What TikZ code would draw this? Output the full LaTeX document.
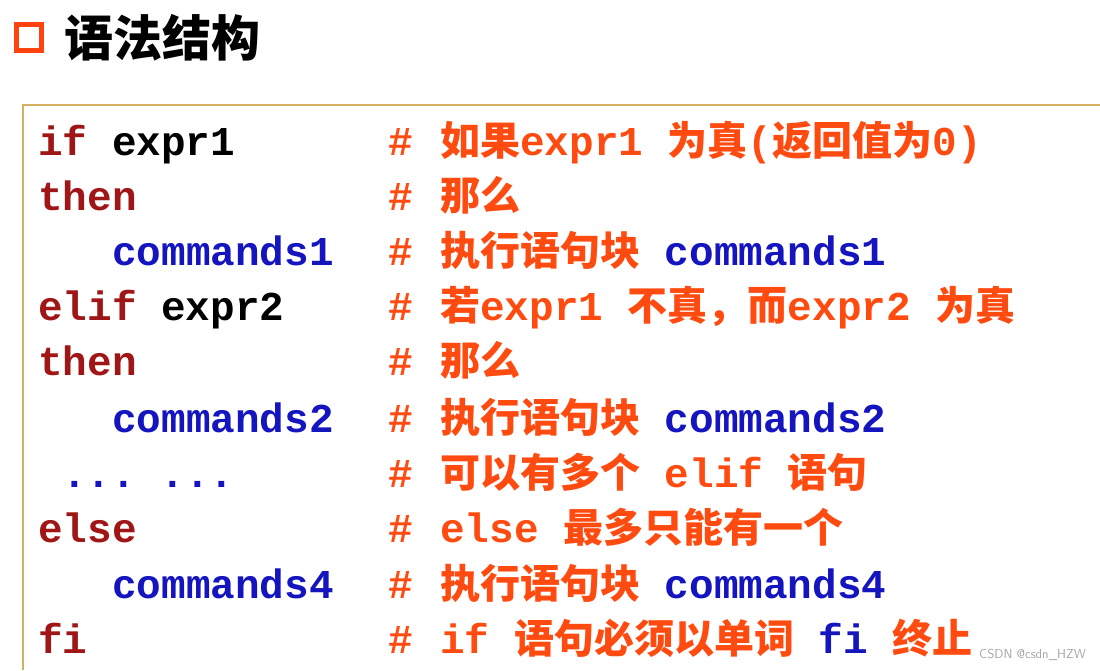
\documentclass[tikz,border=0pt]{standalone}
\usepackage{fontspec}
\setmonofont{Liberation Mono}
\newfontfamily\cjk{Noto Sans CJK SC}
\definecolor{kw}{HTML}{A01515}
\definecolor{bl}{HTML}{1515C0}
\definecolor{cm}{HTML}{FF4A10}
\definecolor{bd}{HTML}{D4B060}
\newcommand\mm[1]{{\ttfamily\bfseries\fontsize{41}{41}\selectfont #1}}
\begin{document}
\begin{tikzpicture}[x=1pt,y=-1pt,
  code/.style={anchor=base west,inner sep=0pt,font=\ttfamily\bfseries\fontsize{41}{41}\selectfont},
  cmt/.style={anchor=base west,inner sep=0pt,text=cm,font=\cjk\bfseries\fontsize{40}{40}\selectfont}]
\useasboundingbox (0,0) rectangle (1100,670);
\fill[white] (0,0) rectangle (1100,670);
% title
\draw[line width=5pt,draw=cm!90!red] (16,24) rectangle (41,50);
\node[anchor=base west,inner sep=0pt,font=\cjk\bfseries\fontsize{49}{49}\selectfont] (title) at (64,56) {语法结构};
% box
\draw[bd,line width=2pt] (23,670) -- (23,105) -- (1100,105);
% code column
\node[code] (c1) at (38,155) {\textcolor{kw}{if} expr1};
\node[code,text=kw] (c2) at (38,210) {then};
\node[code,text=bl] (c3) at (112,265) {commands1};
\node[code] (c4) at (38,320) {\textcolor{kw}{elif} expr2};
\node[code,text=kw] (c5) at (38,375) {then};
\node[code,text=bl] (c6) at (112,432) {commands2};
\node[code,text=bl] (c7) at (62,487) {... ...};
\node[code,text=kw] (c8) at (38,542) {else};
\node[code,text=bl] (c9) at (112,598) {commands4};
\node[code,text=kw] (c10) at (38,653) {fi};
% hashes
\foreach \y [count=\i] in {155,210,265,320,375,432,487,542,598,653}
  \node[code,text=cm] (h\i) at (388,\y) {\#};
% comments
\node[cmt] (t1) at (440,155) {如果\mm{expr1 }为真\mm{(}返回值为\mm{0)}};
\node[cmt] (t2) at (440,210) {那么};
\node[cmt] (t3) at (440,265) {执行语句块\mm{ }\textcolor{bl}{\mm{commands1}}};
\node[cmt] (t4) at (440,320) {若\mm{expr1 }不真，而\mm{expr2 }为真};
\node[cmt] (t5) at (440,375) {那么};
\node[cmt] (t6) at (440,432) {执行语句块\mm{ }\textcolor{bl}{\mm{commands2}}};
\node[cmt] (t7) at (440,487) {可以有多个\mm{ elif }语句};
\node[cmt] (t8) at (440,542) {\mm{else }最多只能有一个};
\node[cmt] (t9) at (440,598) {执行语句块\mm{ }\textcolor{bl}{\mm{commands4}}};
\node[cmt] (t10) at (440,653) {\mm{if }语句必须以单词\mm{ }\textcolor{bl}{\mm{fi}}\mm{ }终止};
\node[anchor=base east,inner sep=0pt,text=gray!70,font=\sffamily\fontsize{13}{13}\selectfont] (wm) at (1086,658) {CSDN @csdn\_HZW};
\end{tikzpicture}
\end{document}
